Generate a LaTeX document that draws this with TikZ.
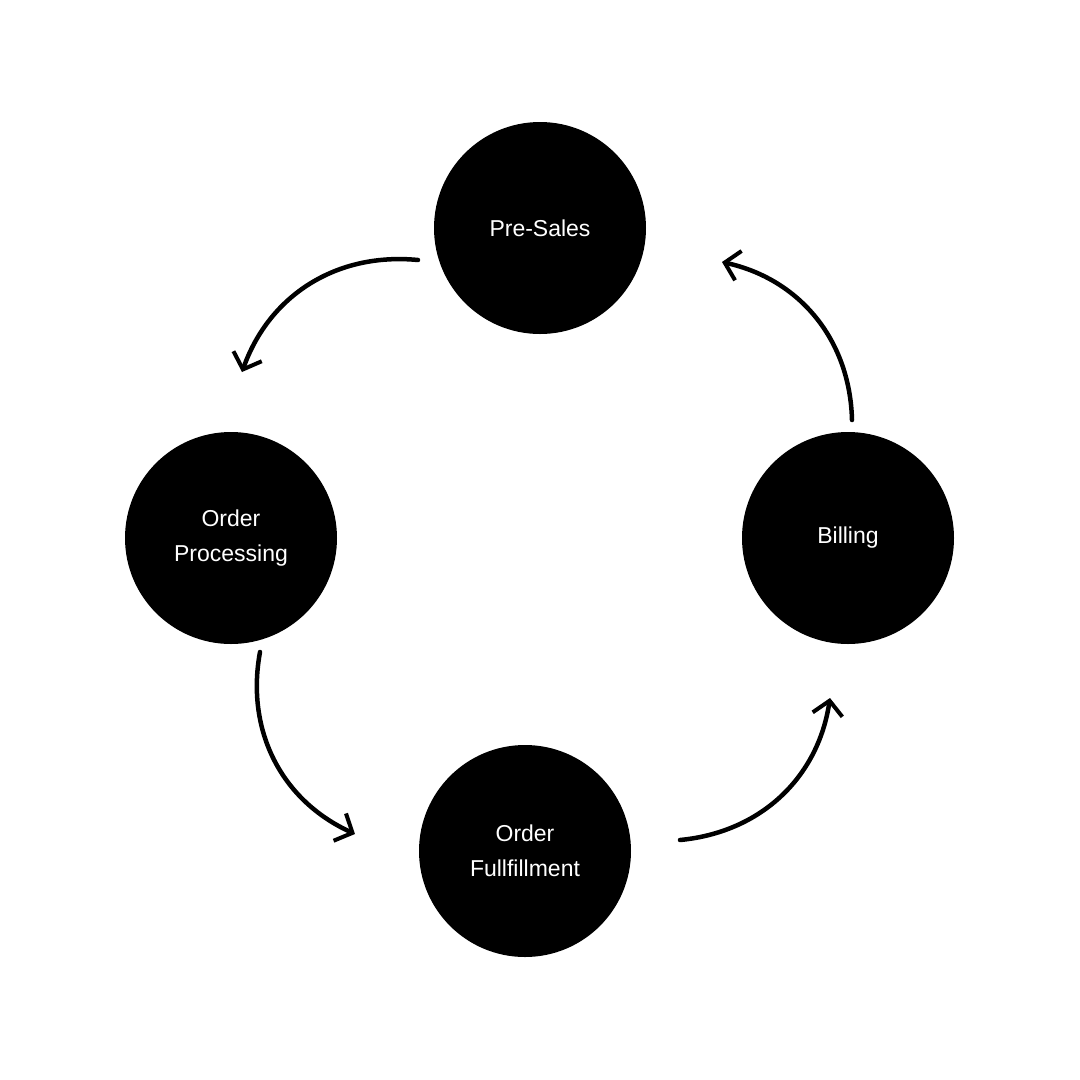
\documentclass[tikz,border=0pt]{standalone}
\usepackage{fontspec}
\setmainfont{Liberation Sans}
\usetikzlibrary{arrows.meta}
\begin{document}
\begin{tikzpicture}[x=1pt,y=-1pt,
  stage/.style={circle,fill=black,minimum size=212pt,inner sep=0pt,text=white,font=\fontsize{23}{35}\selectfont,align=center},
  flow/.style={line width=4.5pt,line cap=round,-{Straight Barb[length=14pt,width=30pt,line width=4pt]}}]
\useasboundingbox (0,0) rectangle (1080,1080);
\node[stage] (pre) at (540,228) {Pre-Sales};
\node[stage] (op) at (231,538) {Order\\Processing};
\node[stage] (bill) at (848,538) {Billing};
\node[stage] (of) at (525,851) {Order\\Fullfillment};
\coordinate (a1) at (418,260); \coordinate (b1) at (242,372);
\coordinate (a2) at (260,652); \coordinate (b2) at (355,834);
\coordinate (a3) at (680,840); \coordinate (b3) at (830,698);
\coordinate (a4) at (852,420); \coordinate (b4) at (722,262);
\draw[flow] (a1) to[bend right=38] (b1);
\draw[flow] (a2) to[bend right=38] (b2);
\draw[flow] (a3) to[bend right=38] (b3);
\draw[flow] (a4) to[bend right=38] (b4);
\end{tikzpicture}
\end{document}
